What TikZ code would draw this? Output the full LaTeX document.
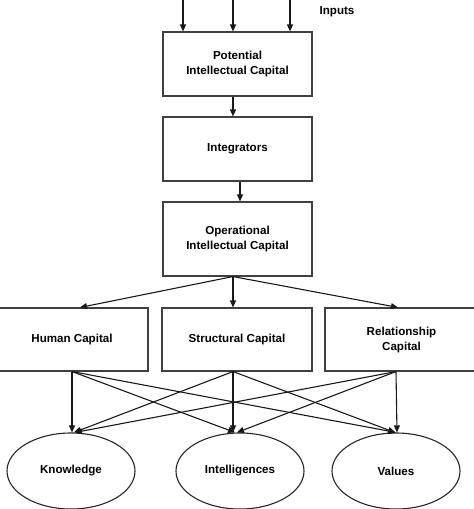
\documentclass[tikz,border=0pt]{standalone}
\usepackage{fontspec}
\setmainfont{Liberation Sans}
\usetikzlibrary{arrows.meta,shapes.geometric}
\begin{document}
\begin{tikzpicture}[x=1pt,y=-1pt,
  font=\fontsize{11.6}{15}\selectfont\bfseries,
  line width=1.1pt, draw=black!85,
  boxnode/.style={draw=black!75, line width=1.1pt, rectangle, minimum width=149pt, align=center, inner sep=0pt},
  ellnode/.style={draw=black!85, line width=1.1pt, ellipse, minimum width=128pt, minimum height=76pt, inner sep=0pt},
  arr/.style={-{Triangle[length=7pt,width=6pt]}, line width=1.1pt, draw=black!90},
  ln/.style={line width=1.1pt, draw=black!90}]
\useasboundingbox (0,0) rectangle (474,509);
\node[boxnode, minimum height=64pt] (pot) at (237.5,64) {Potential\\Intellectual Capital};
\node[boxnode, minimum height=64pt] (integ) at (237.5,149) {Integrators};
\node[boxnode, minimum height=74pt] (oper) at (237.5,239) {Operational\\Intellectual Capital};
\node[boxnode, minimum height=63pt, minimum width=152pt] (human) at (72,339.5) {Human Capital};
\node[boxnode, minimum height=63pt, minimum width=150pt] (struct) at (237,339.5) {Structural Capital};
\node[boxnode, minimum height=63pt, minimum width=153pt] (rel) at (401.5,339.5) {Relationship\\Capital};
\node[ellnode] (know) at (71,471) {Knowledge};
\node[ellnode] (intel) at (240,471) {Intelligences};
\node[ellnode] (val) at (396,471) {Values};
\node (inputs) at (337,12) {Inputs};
\coordinate (in1) at (183,-2);
\coordinate (in2) at (233,-2);
\coordinate (in3) at (290,-2);
\draw[arr] (in1) -- (in1 |- pot.north);
\draw[arr] (in2) -- (in2 |- pot.north);
\draw[arr] (in3) -- (in3 |- pot.north);
\draw[arr] ([xshift=-4.5pt]pot.south) -- ([xshift=-4.5pt]integ.north);
\draw[arr] ([xshift=2.5pt]integ.south) -- ([xshift=2.5pt]oper.north);
\draw[arr] ([xshift=-4.5pt]oper.south) -- ([xshift=8pt]human.north);
\draw[arr] ([xshift=-4.5pt]oper.south) -- ([xshift=-4pt]struct.north);
\draw[arr] ([xshift=-4.5pt]oper.south) -- ([xshift=-3.5pt]rel.north);
% lower network
\draw[arr] (human.south) -- ([xshift=1pt]know.north);
\draw[arr] (human.south) -- ([xshift=-5pt]intel.north);
\draw[arr] (human.south) -- (val.north);
\draw[arr] ([xshift=-4pt]struct.south) -- ([xshift=3pt]know.north);
\draw[arr] ([xshift=-4pt]struct.south) -- ([xshift=-7pt]intel.north);
\draw[arr] ([xshift=-4pt]struct.south) -- ([xshift=-1pt]val.north);
\draw[arr] ([xshift=-5.5pt]rel.south) -- ([xshift=4pt]know.north);
\draw[arr] ([xshift=-5.5pt]rel.south) -- ([xshift=-3pt]intel.north);
\draw[arr] ([xshift=-5.5pt]rel.south) -- ([xshift=1pt]val.north);
\end{tikzpicture}
\end{document}
